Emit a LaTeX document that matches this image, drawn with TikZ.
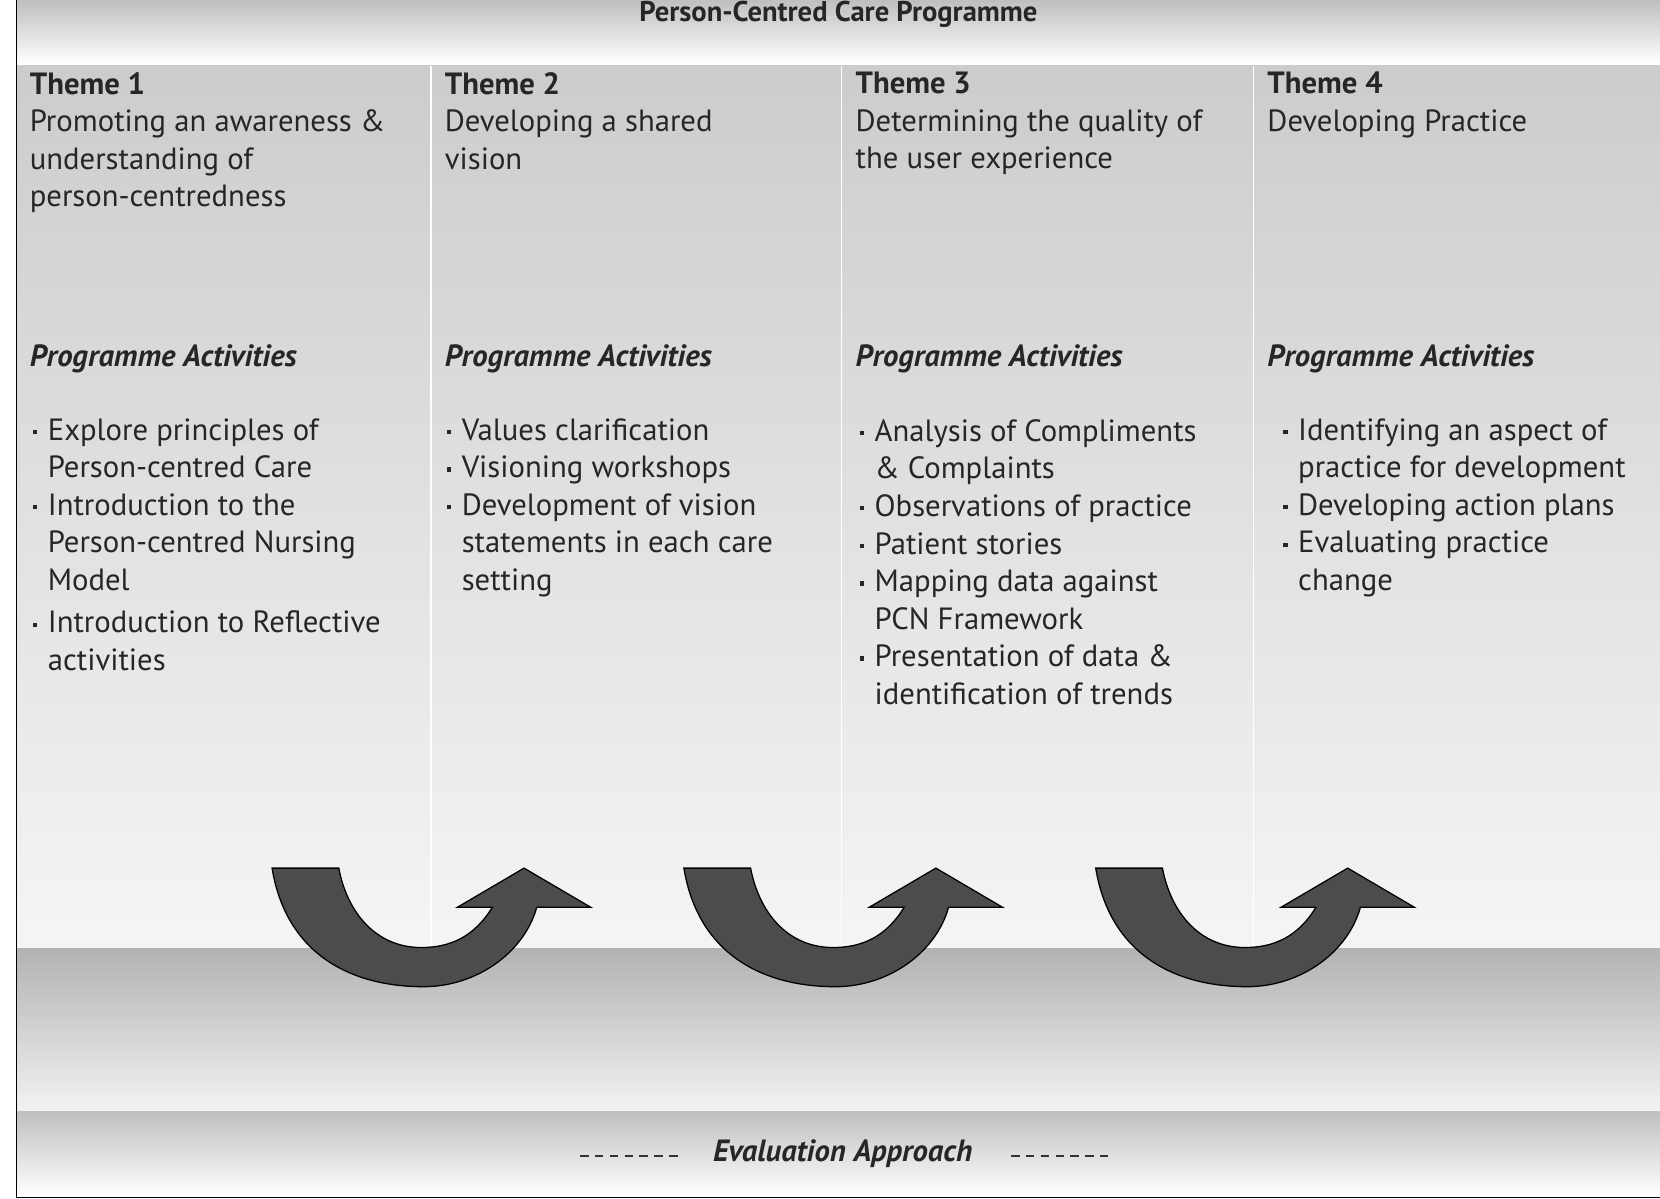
\documentclass[tikz,border=0pt]{standalone}
\usepackage{fontspec}
\setmainfont{PT Sans}
\begin{document}
\begin{tikzpicture}[x=1pt,y=-1pt,
  txt/.style={anchor=west,inner sep=0pt,font=\fontsize{29}{35.5}\selectfont,align=left,text=black!85},
  bul/.style={txt,anchor=north west},
  uarrow/.style={fill=black!70,draw=black,line width=1.2pt,line join=miter}]
\useasboundingbox (0,0) rectangle (1568,1132);
% bands
\shade[top color=black!25,bottom color=white] (16,0) rectangle (1568,60);
\shade[top color=black!20,bottom color=black!4] (16,62) rectangle (1568,896);
\shade[top color=black!30,bottom color=black!5] (16,896) rectangle (1568,1050);
\shade[top color=black!25,bottom color=white] (16,1050) rectangle (1568,1130);
\foreach \x in {407,795,1184} \draw[white,line width=1.2pt] (\x,62) -- (\x,896);
\draw[black,line width=1pt] (16,0) -- (16,1131) -- (1568,1131);
\node[txt,font=\fontsize{27}{30}\selectfont\bfseries,anchor=center] (title) at (792,14) {Person-Centred Care Programme};
% headings
\node[bul] (h1) at (28,68) {\textbf{Theme 1}\\Promoting an awareness \&\\understanding of\\person-centredness};
\node[bul] (h2) at (420,68) {\textbf{Theme 2}\\Developing a shared\\vision};
\node[bul] (h3) at (808,68) {\textbf{Theme 3}\\Determining the quality of\\the user experience};
\node[bul] (h4) at (1197,68) {\textbf{Theme 4}\\Developing Practice};
\foreach \x/\n in {28/1,420/2,808/3,1197/4}
  \node[txt] (pa\n) at (\x,339) {\textbf{\itshape Programme Activities}};
% bullets
\newcommand{\bm}{\makebox[0pt][r]{\rule[0.2em]{4pt}{4pt}\hspace{10pt}}}
\node[bul] (b11) at (45,395) {\bm Explore principles of\\Person-centred Care};
\node[bul] (b12) at (45,466) {\bm Introduction to the\\Person-centred Nursing\\Model};
\node[bul] (b13) at (45,577) {\bm Introduction to Reflective\\activities};
\node[bul] (b21) at (436,395) {\bm Values clarification\\\bm Visioning workshops\\\bm Development of vision\\statements in each care\\setting};
\node[bul] (b31) at (826,396) {\bm Analysis of Compliments\\\& Complaints\\\bm Observations of practice\\\bm Patient stories\\\bm Mapping data against\\PCN Framework\\\bm Presentation of data \&\\identification of trends};
\node[bul] (b41) at (1226,395) {\bm Identifying an aspect of\\practice for development\\\bm Developing action plans\\\bm Evaluating practice\\change};
% arrows
\foreach \o [count=\i] in {0,389,778}{
\begin{scope}[shift={(\o,0)}]
\draw[uarrow] (257,820) .. controls (270,900) and (330,932) .. (400,932)
  .. controls (450,932) and (495,900) .. (507,857) -- (558,857) -- (495,820) -- (432,857) -- (465,857)
  .. controls (448,885) and (425,895) .. (398,895)
  .. controls (355,895) and (328,862) .. (320,820) -- cycle;
\end{scope}}
% footer
\node[txt,anchor=center,font=\fontsize{29}{35}\selectfont\bfseries\itshape] (ev) at (796,1090) {Evaluation Approach};
\coordinate (dl1) at (548,1092); \coordinate (dl2) at (640,1092);
\coordinate (dr1) at (955,1092); \coordinate (dr2) at (1048,1092);
\draw[black!80,line width=1.2pt,dash pattern=on 8pt off 6pt] (dl1) -- (dl2);
\draw[black!80,line width=1.2pt,dash pattern=on 8pt off 6pt] (dr1) -- (dr2);
\end{tikzpicture}
\end{document}
